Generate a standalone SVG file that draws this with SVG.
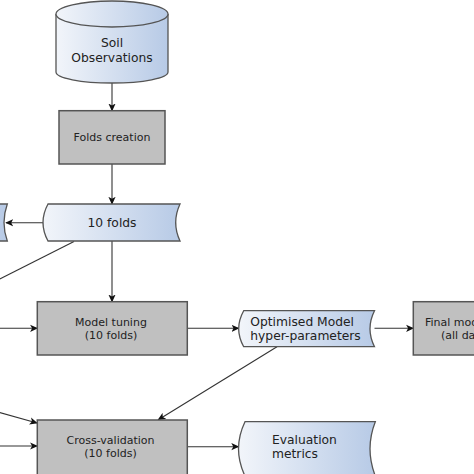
<svg xmlns="http://www.w3.org/2000/svg" width="474" height="474" viewBox="0 0 474 474">
<defs>
<linearGradient id="blue" x1="0" y1="0" x2="1" y2="0">
<stop offset="0" stop-color="#f2f5fa"/>
<stop offset="1" stop-color="#b7cae6"/>
</linearGradient>
<marker id="arr" viewBox="0 0 10 10" refX="9" refY="5" markerWidth="8" markerHeight="8" markerUnits="userSpaceOnUse" orient="auto">
<path d="M0,0.5 L10,5 L0,9.5 L2.5,5 Z" fill="#111"/>
</marker>
<style>
.data{fill:url(#blue);stroke:#555;stroke-width:1.3}
.proc{fill:#c0c0c0;stroke:#555;stroke-width:1.5}
.con{fill:none;stroke:#333;stroke-width:1.1}
.arw{marker-end:url(#arr)}
text{font-family:"DejaVu Sans","Liberation Sans",sans-serif;fill:#222}
.t11{font-size:11px}
.t12{font-size:12.3px}
</style>
</defs>
<rect width="474" height="474" fill="#fff"/>
<g id="connectors">
<line class="con arw" x1="112" y1="83" x2="112" y2="110.7"/>
<line class="con arw" x1="112" y1="164" x2="112" y2="204"/>
<line class="con arw" x1="43" y1="222.7" x2="6" y2="222.7"/>
<line class="con" x1="74" y1="241.5" x2="-10" y2="284"/>
<line class="con arw" x1="112" y1="241" x2="112" y2="301.7"/>
<line class="con arw" x1="-10" y1="328.3" x2="37.3" y2="328.3"/>
<line class="con arw" x1="187.3" y1="328.3" x2="238.7" y2="328.3"/>
<line class="con arw" x1="374.5" y1="328.3" x2="413.3" y2="328.3"/>
<line class="con arw" x1="277" y1="346.7" x2="158.3" y2="419.7"/>
<line class="con arw" x1="-10" y1="409.8" x2="37" y2="423"/>
<line class="con arw" x1="-10" y1="446" x2="37.3" y2="446"/>
<line class="con arw" x1="187.3" y1="446.7" x2="238.5" y2="446.7"/>
</g>
<g id="soil-observations">
<path class="data" d="M56,14 L56,72 A56,11 0 0 0 168,72 L168,14 A56,13 0 0 0 56,14 Z"/>
<path class="data" d="M56,14 A56,13 0 0 0 168,14" fill="none"/>
<text class="t12" x="112" y="47" text-anchor="middle">Soil</text>
<text class="t12" x="112" y="62" text-anchor="middle">Observations</text>
</g>
<g id="folds-creation">
<rect class="proc" x="59" y="110.7" width="106" height="53.3"/>
<text class="t11" x="112" y="141" text-anchor="middle">Folds creation</text>
</g>
<g id="ten-folds">
<path class="data" d="M48,204 L180,204 Q171.4,222.5 180,241 L48,241 Q38,222.5 48,204 Z"/>
<text class="t12" x="112" y="227" text-anchor="middle">10 folds</text>
</g>
<g id="left-data">
<path class="data" d="M-120,204 L7.3,204 Q0.7,222.5 7.3,241 L-120,241 Z"/>
</g>
<g id="model-tuning">
<rect class="proc" x="37.3" y="301.7" width="150" height="53.3"/>
<text class="t11" x="111" y="326" text-anchor="middle">Model tuning</text>
<text class="t11" x="111" y="339" text-anchor="middle">(10 folds)</text>
</g>
<g id="optimised-model">
<path class="data" d="M243.7,310.7 L374.5,310.7 Q365.5,328.7 374.5,346.7 L243.7,346.7 Q233.7,328.7 243.7,310.7 Z"/>
<text class="t12" x="250.3" y="325.7">Optimised Model</text>
<text class="t12" x="250.3" y="340">hyper-parameters</text>
</g>
<g id="final-model">
<rect class="proc" x="413.3" y="301.7" width="150" height="53.3"/>
<text class="t11" x="425" y="326">Final model</text>
<text class="t11" x="441" y="339">(all data)</text>
</g>
<g id="cross-validation">
<rect class="proc" x="37.3" y="420" width="150" height="70"/>
<text class="t11" x="110.5" y="444" text-anchor="middle">Cross-validation</text>
<text class="t11" x="110.5" y="457.3" text-anchor="middle">(10 folds)</text>
</g>
<g id="evaluation-metrics">
<path class="data" d="M245,421.7 L375.3,421.7 Q364.7,448.8 375.3,476 L245,476 Q232,448.8 245,421.7 Z"/>
<text class="t12" x="272" y="444">Evaluation</text>
<text class="t12" x="272" y="458.3">metrics</text>
</g>
</svg>
